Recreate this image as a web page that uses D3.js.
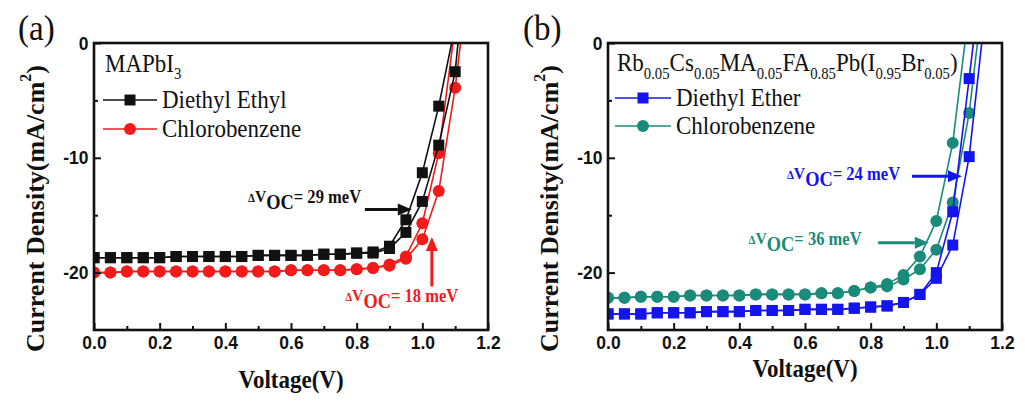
<!DOCTYPE html>
<html>
<head>
<meta charset="utf-8">
<script src="https://cdn.jsdelivr.net/npm/d3@7"></script>
<style>
  body { margin: 0; background: #fff; }
  svg { display: block; }
</style>
</head>
<body>
<svg id="chart" width="1025" height="401"></svg>
<script>
// voltage steps (V)
const voltage = [0, 0.05, 0.1, 0.15, 0.2, 0.25, 0.3, 0.35, 0.4, 0.45, 0.5, 0.55,
  0.6, 0.65, 0.7, 0.75, 0.8, 0.85, 0.9, 0.95, 1.0, 1.05, 1.1, 1.15];

// panel (a) MAPbI3, two scans per solvent
const ethylScan1 = [-18.7, -18.7, -18.7, -18.7, -18.7, -18.6, -18.6, -18.6, -18.6, -18.6, -18.5, -18.5,
  -18.5, -18.5, -18.4, -18.4, -18.3, -18.2, -17.7, -15.4, -11.3, -5.5, 1.5];
const ethylScan2 = [-18.7, -18.7, -18.7, -18.7, -18.7, -18.6, -18.6, -18.6, -18.6, -18.6, -18.5, -18.5,
  -18.5, -18.5, -18.4, -18.4, -18.3, -18.3, -17.9, -16.5, -13.8, -8.9, -2.5, 12];
const cbAScan1 = [-20.0, -20.0, -19.9, -19.9, -19.9, -19.9, -19.9, -19.9, -19.9, -19.9, -19.9, -19.9,
  -19.8, -19.8, -19.8, -19.8, -19.7, -19.6, -19.3, -18.6, -15.7, -9.6, 1.5];
const cbAScan2 = [-20.0, -20.0, -19.9, -19.9, -19.9, -19.9, -19.9, -19.9, -19.9, -19.9, -19.9, -19.9,
  -19.8, -19.8, -19.8, -19.8, -19.7, -19.6, -19.4, -18.8, -17.1, -12.9, -3.9, 8];

// panel (b) Rb/Cs/MA/FA perovskite
const etherScan1 = [-23.6, -23.6, -23.6, -23.5, -23.5, -23.5, -23.4, -23.4, -23.4, -23.3, -23.3, -23.3,
  -23.2, -23.2, -23.2, -23.1, -23.0, -22.9, -22.6, -21.9, -20.0, -14.7, -3.1, 9];
const etherScan2 = [-23.6, -23.6, -23.6, -23.5, -23.5, -23.5, -23.4, -23.4, -23.4, -23.3, -23.3, -23.3,
  -23.2, -23.2, -23.2, -23.1, -23.0, -22.9, -22.6, -21.9, -20.5, -17.6, -9.9, 3];
const cbBScan1 = [-22.2, -22.2, -22.1, -22.1, -22.1, -22.0, -22.0, -22.0, -22.0, -21.9, -21.9, -21.9,
  -21.9, -21.8, -21.8, -21.6, -21.3, -21.0, -20.2, -18.6, -15.5, -8.7, 3];
const cbBScan2 = [-22.2, -22.2, -22.1, -22.1, -22.1, -22.0, -22.0, -22.0, -22.0, -21.9, -21.9, -21.9,
  -21.9, -21.8, -21.8, -21.6, -21.3, -21.2, -20.6, -19.7, -18.0, -13.9, -6.1, 6];

const xTicks = [0, 0.2, 0.4, 0.6, 0.8, 1.0, 1.2];
const xMinor = [0.1, 0.3, 0.5, 0.7, 0.9, 1.1];
const yTicks = [0, -10, -20];
const yMinor = [-5, -15];

const serif = '"Liberation Serif", "Times New Roman", serif';
const sans = '"Liberation Sans", Arial, sans-serif';
const SX = 0.92; // the original figure is a little squeezed sideways

const BLACK = "#111", RED = "#f21a1a", BLUE = "#1414ee", TEAL = "#1a8a7a";

const panels = [
  {
    id: "a", label: "(a)", labelX: 18, labelY: 40,
    left: 94, right: 488, top: 43, bottom: 330,
    yLabelX: 38, xLabelY: 388,
    title: [{ t: "MAPbI", s: 25 }, { t: "3", s: 16, off: 7 }],
    titleX: 105, titleY: 72,
    legX: [103, 157], legTextX: 162,
    series: [
      { name: "Diethyl Ethyl", color: BLACK, shape: "square", scans: [ethylScan1, ethylScan2], legY: 100 },
      { name: "Chlorobenzene", color: RED, shape: "circle", scans: [cbAScan1, cbAScan2], legY: 129 }
    ],
    notes: [
      { text: "29 meV", color: BLACK, tx: 0.469, ty: -13.9, arrow: [0.825, -14.5, 0.968, -14.5] },
      { text: "18 meV", color: RED, tx: 0.765, ty: -22.6, arrow: [1.029, -21.2, 1.029, -16.9] }
    ]
  },
  {
    id: "b", label: "(b)", labelX: 523, labelY: 40,
    left: 608, right: 1002, top: 43, bottom: 330,
    yLabelX: 552, xLabelY: 377,
    title: [
      { t: "Rb", s: 25 }, { t: "0.05", s: 16, off: 8 }, { t: "Cs", s: 25 }, { t: "0.05", s: 16, off: 8 },
      { t: "MA", s: 25 }, { t: "0.05", s: 16, off: 8 }, { t: "FA", s: 25 }, { t: "0.85", s: 16, off: 8 },
      { t: "Pb(I", s: 25 }, { t: "0.95", s: 16, off: 8 }, { t: "Br", s: 25 }, { t: "0.05", s: 16, off: 8 },
      { t: ")", s: 25 }
    ],
    titleX: 617, titleY: 71,
    legX: [615, 671], legTextX: 676,
    series: [
      { name: "Diethyl Ether", color: BLUE, shape: "square", scans: [etherScan1, etherScan2], legY: 98 },
      { name: "Chlorobenzene", color: TEAL, shape: "circle", scans: [cbBScan1, cbBScan2], legY: 126 }
    ],
    notes: [
      { text: "24 meV", color: BLUE, tx: 0.545, ty: -11.9, arrow: [0.926, -11.6, 1.078, -11.6] },
      { text: "36 meV", color: TEAL, tx: 0.428, ty: -17.6, arrow: [0.823, -17.4, 0.977, -17.4] }
    ]
  }
];

const svg = d3.select("#chart");

// text built from pieces with baseline offsets, squeezed horizontally
function richText(g, x, y, parts, opts) {
  const t = g.append("text")
    .attr("transform", `translate(${x},${y}) scale(${SX},1)`)
    .attr("font-family", opts.family || serif)
    .attr("font-weight", opts.weight || "normal")
    .attr("fill", opts.fill || "#111")
    .attr("text-anchor", opts.anchor || "start");
  let prev = 0;
  parts.forEach(p => {
    const off = p.off || 0;
    t.append("tspan")
      .attr("dy", off - prev)
      .attr("font-size", p.s)
      .text(p.t);
    prev = off;
  });
  return t;
}

function drawMarker(g, shape, color, cx, cy) {
  if (shape === "square") {
    g.append("rect")
      .attr("x", cx - 5.5).attr("y", cy - 5.5)
      .attr("width", 11).attr("height", 11)
      .attr("fill", color);
  } else {
    g.append("circle")
      .attr("cx", cx).attr("cy", cy).attr("r", 6)
      .attr("fill", color);
  }
}

function drawArrow(g, x1, y1, x2, y2, color) {
  const ang = Math.atan2(y2 - y1, x2 - x1);
  const len = 14, half = 6;
  const bx = x2 - len * Math.cos(ang), by = y2 - len * Math.sin(ang);
  g.append("line")
    .attr("x1", x1).attr("y1", y1).attr("x2", bx).attr("y2", by)
    .attr("stroke", color).attr("stroke-width", 3);
  const px = -Math.sin(ang) * half, py = Math.cos(ang) * half;
  g.append("path")
    .attr("d", `M${x2},${y2}L${bx + px},${by + py}L${bx - px},${by - py}Z`)
    .attr("fill", color);
}

panels.forEach(p => {
  const g = svg.append("g");

  const x = d3.scaleLinear().domain([0, 1.2]).range([p.left, p.right]);
  const y = d3.scaleLinear().domain([-25, 0]).range([p.bottom, p.top]);

  g.append("clipPath").attr("id", "clip-" + p.id)
    .append("rect")
    .attr("x", p.left).attr("y", p.top)
    .attr("width", p.right - p.left).attr("height", p.bottom - p.top);

  const plot = g.append("g").attr("clip-path", `url(#clip-${p.id})`);
  const line = d3.line().x(d => x(d[0])).y(d => y(d[1]));

  // chlorobenzene under, then the ether curves on top (like the original)
  p.series.slice().reverse().forEach(s => {
    s.scans.forEach(scan => {
      const pts = scan.map((j, i) => [voltage[i], j]);
      plot.append("path")
        .datum(pts)
        .attr("d", line)
        .attr("fill", "none")
        .attr("stroke", s.color)
        .attr("stroke-width", 1.6);
      const mg = plot.append("g");
      pts.forEach(d => drawMarker(mg, s.shape, s.color, x(d[0]), y(d[1])));
    });
  });

  // axes with inward ticks
  const xAxis = g.append("g")
    .attr("transform", `translate(0,${p.bottom})`)
    .call(d3.axisBottom(x).tickValues(xTicks).tickFormat(d3.format(".1f"))
      .tickSize(-7).tickPadding(6));
  g.append("g")
    .attr("transform", `translate(0,${p.bottom})`)
    .call(d3.axisBottom(x).tickValues(xMinor).tickFormat("").tickSize(-4));
  const yAxis = g.append("g")
    .attr("transform", `translate(${p.left},0)`)
    .call(d3.axisLeft(y).tickValues(yTicks).tickFormat(d => String(d))
      .tickSize(-7).tickPadding(6));
  g.append("g")
    .attr("transform", `translate(${p.left},0)`)
    .call(d3.axisLeft(y).tickValues(yMinor).tickFormat("").tickSize(-4));

  g.selectAll(".domain").remove();
  g.selectAll(".tick line").attr("stroke", "#111").attr("stroke-width", 2);
  [xAxis, yAxis].forEach(a => a.selectAll("text")
    .attr("font-family", sans).attr("font-weight", "bold")
    .attr("font-size", 19).attr("fill", "#111")
    .attr("transform", `scale(${SX},1)`));

  // frame
  g.append("rect")
    .attr("x", p.left).attr("y", p.top)
    .attr("width", p.right - p.left).attr("height", p.bottom - p.top)
    .attr("fill", "none").attr("stroke", "#111").attr("stroke-width", 2.6);

  // axis titles
  richText(g, (p.left + p.right) / 2, p.xLabelY, [{ t: "Voltage(V)", s: 25 }],
    { weight: "bold", anchor: "middle" });

  const yl = g.append("text")
    .attr("transform", `translate(${p.yLabelX},${(p.top + p.bottom) / 2 + 22}) rotate(-90)`)
    .attr("font-family", serif).attr("font-weight", "bold")
    .attr("font-size", 26).attr("fill", "#111")
    .attr("text-anchor", "middle").attr("dominant-baseline", "middle");
  yl.append("tspan").text("Current Density(mA/cm");
  yl.append("tspan").attr("font-size", 16).attr("dy", -11).text("2");
  yl.append("tspan").attr("dy", 11).text(")");

  // panel letter
  richText(g, p.labelX, p.labelY, [{ t: p.label, s: 36 }], {});

  // legend
  richText(g, p.titleX, p.titleY, p.title, {});
  p.series.forEach(s => {
    g.append("line")
      .attr("x1", p.legX[0]).attr("x2", p.legX[1])
      .attr("y1", s.legY).attr("y2", s.legY)
      .attr("stroke", s.color).attr("stroke-width", 1.6);
    drawMarker(g, s.shape, s.color, (p.legX[0] + p.legX[1]) / 2, s.legY);
    richText(g, p.legTextX, s.legY + 8, [{ t: s.name, s: 25 }], {});
  });

  // delta Voc notes
  p.notes.forEach(n => {
    richText(g, x(n.tx), y(n.ty), [
      { t: "\u0394", s: 12, off: -1 },
      { t: "V", s: 17, off: -1 },
      { t: "OC", s: 20, off: 6 },
      { t: "= " + n.text, s: 18, off: 0 }
    ], { weight: "bold", fill: n.color });
    const a = n.arrow;
    drawArrow(g, x(a[0]), y(a[1]), x(a[2]), y(a[3]), n.color);
  });
});
</script>
</body>
</html>
